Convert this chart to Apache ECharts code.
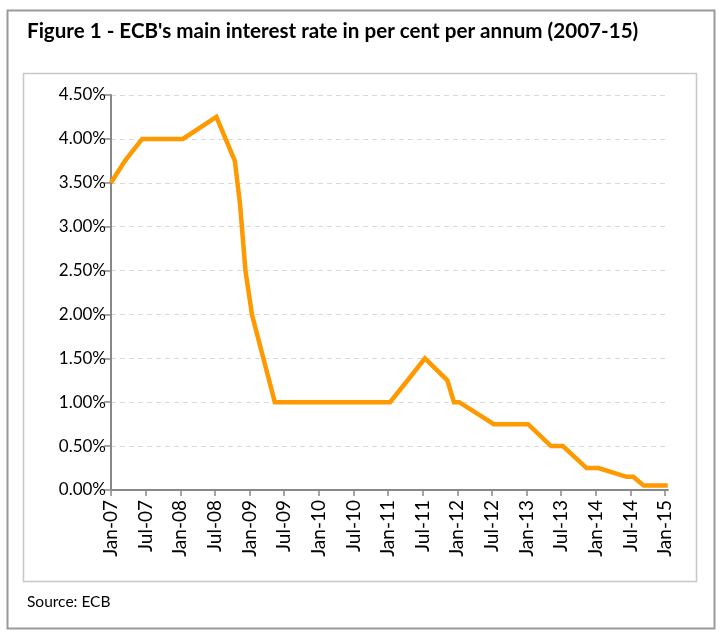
<!DOCTYPE html>
<html>
<head>
<meta charset="utf-8">
<script src="https://cdn.jsdelivr.net/npm/echarts@6/dist/echarts.min.js"></script>
<style>
html,body{margin:0;padding:0;background:#fff;}
#c{width:726px;height:643px;}
</style>
</head>
<body>
<div id="c"></div>
<script>
// ---- data ----
var changeDates = ['2007-01-01','2007-03-14','2007-06-13','2008-01-15','2008-07-09','2008-10-15','2008-11-12','2008-12-10','2009-01-14','2009-05-13','2011-01-12','2011-04-13','2011-07-13','2011-11-09','2011-12-14','2012-01-11','2012-07-11','2013-01-09','2013-05-08','2013-07-10','2013-11-13','2014-01-15','2014-06-11','2014-07-16','2014-09-10','2015-01-15'];
var rateValues = [3.50,3.75,4.00,4.00,4.25,3.75,3.25,2.50,2.00,1.00,1.00,1.25,1.50,1.25,1.00,1.00,0.75,0.75,0.50,0.50,0.25,0.25,0.15,0.15,0.05,0.05];
var xTickLabels = ['Jan-07','Jul-07','Jan-08','Jul-08','Jan-09','Jul-09','Jan-10','Jul-10','Jan-11','Jul-11','Jan-12','Jul-12','Jan-13','Jul-13','Jan-14','Jul-14','Jan-15'];
var titleText = "Figure 1 - ECB's main interest rate in per cent per annum (2007-15)";
var sourceText = 'Source: ECB';

// month index since Jan 2007 (fractional)
function monthIndex(s){
  var p = s.split('-').map(Number);
  var dim = new Date(p[0], p[1], 0).getDate();
  return (p[0]-2007)*12 + (p[1]-1) + (p[2]-1)/dim;
}
var seriesData = changeDates.map(function(d,i){ return [monthIndex(d), rateValues[i]]; });
var tickVals = xTickLabels.map(function(_,i){ return i*6; });

var chart = echarts.init(document.getElementById('c'), null, {renderer:'canvas'});
var FONT = 'Lato';
chart.setOption({
  backgroundColor:'#fff',
  animation:false,
  graphic:[
    {type:'rect', shape:{x:7.5,y:10.5,width:707,height:618}, style:{fill:'none',stroke:'#9a9a9a',lineWidth:2}, z:-1},
    {type:'rect', shape:{x:23.5,y:73.5,width:673,height:508}, style:{fill:'none',stroke:'#c8c8c8',lineWidth:1.5}, z:-1},
    {type:'text', left:27, top:21, style:{text:titleText, font:'bold 20.6px '+FONT, fill:'#000'}},
    {type:'text', left:27, top:594, style:{text:sourceText, font:'15.5px '+FONT, fill:'#000'}}
  ],
  grid:{left:111, right:58, top:95, bottom:153, containLabel:false},
  xAxis:{
    type:'value', min:0, max:96.5,
    axisLine:{show:true, onZero:false, lineStyle:{color:'#888', width:2}},
    axisTick:{show:true, length:6, lineStyle:{color:'#888', width:1.5}, customValues:tickVals},
    axisLabel:{
      customValues:tickVals, rotate:90, margin:10, fontFamily:FONT, fontSize:19, color:'#000',
      formatter:function(v){ var i=Math.round(v/6); return xTickLabels[i]||''; }
    },
    splitLine:{show:false}
  },
  yAxis:{
    type:'value', min:0, max:4.5, interval:0.5,
    axisLine:{show:true, lineStyle:{color:'#888', width:2}},
    axisTick:{show:true, length:7, lineStyle:{color:'#888', width:1.5}},
    axisLabel:{margin:5, fontFamily:FONT, fontSize:17, color:'#000',
      formatter:function(v){ return v.toFixed(2)+'%'; }},
    splitLine:{show:true, lineStyle:{color:'#d9d9d9', type:[5,4], width:1}}
  },
  series:[{
    type:'line', data:seriesData, showSymbol:false, symbol:'none',
    lineStyle:{color:'#FF9900', width:4.5, join:'miter'},
    clip:false
  }]
});
</script>
</body>
</html>
